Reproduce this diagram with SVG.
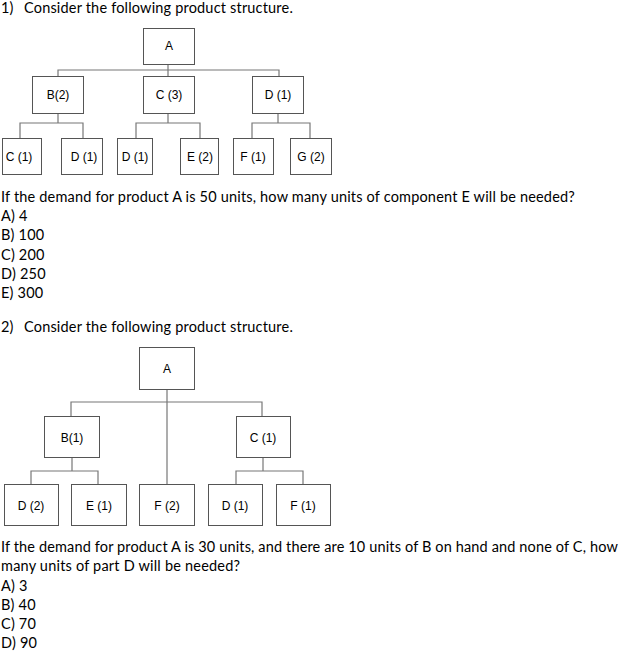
<svg xmlns="http://www.w3.org/2000/svg" width="624" height="654" viewBox="0 0 624 654">
<style>
.t{font-family:Lato,"Open Sans",sans-serif;font-size:14.5px;fill:#000;letter-spacing:0.2px}
.n rect{fill:#fff;stroke:#555;stroke-width:1}
.n text{font-family:"Liberation Sans",Arial,sans-serif;font-size:12px;fill:#000;text-anchor:middle}
.c{stroke:#777;stroke-width:1.2;fill:none}
</style>
<rect width="624" height="654" fill="#fff"/>
<text class="t" x="1" y="13">1)</text>
<text class="t" x="24" y="13" textLength="269" lengthAdjust="spacing">Consider the following product structure.</text>
<g class="c" id="connectors1">
<path d="M168 64V70M58 76V70H279V76M168 70V76"/>
<path d="M58 113V123M20 138V123H83V138"/>
<path d="M168 113V123M136 138V123H200V138"/>
<path d="M278 113V123M252 138V123H310V138"/>
</g>
<g class="n" id="n1A"><rect x="143.5" y="28.5" width="51" height="36"/><text x="169" y="50">A</text></g>
<g class="n" id="n1B"><rect x="32.5" y="76.5" width="51" height="37"/><text x="58" y="99">B(2)</text></g>
<g class="n" id="n1C"><rect x="143.5" y="76.5" width="51" height="37"/><text x="169" y="99">C (3)</text></g>
<g class="n" id="n1D"><rect x="252.5" y="76.5" width="51" height="37"/><text x="278" y="99">D (1)</text></g>
<g class="n" id="n1C1"><rect x="2.5" y="138.5" width="39" height="36"/><text x="19" y="161">C (1)</text></g>
<g class="n" id="n1D1"><rect x="61.5" y="138.5" width="41" height="36"/><text x="84" y="161">D (1)</text></g>
<g class="n" id="n1D2"><rect x="117.5" y="138.5" width="35" height="36"/><text x="135" y="161">D (1)</text></g>
<g class="n" id="n1E"><rect x="180.5" y="138.5" width="38" height="36"/><text x="200" y="161">E (2)</text></g>
<g class="n" id="n1F"><rect x="233.5" y="138.5" width="40" height="36"/><text x="253" y="161">F (1)</text></g>
<g class="n" id="n1G"><rect x="290.5" y="138.5" width="41" height="36"/><text x="311" y="161">G (2)</text></g>
<text class="t" x="1" y="202" textLength="574" lengthAdjust="spacing">If the demand for product A is 50 units, how many units of component E will be needed?</text>
<text class="t" x="1" y="221">A) 4</text>
<text class="t" x="1" y="240">B) 100</text>
<text class="t" x="1" y="260">C) 200</text>
<text class="t" x="1" y="279">D) 250</text>
<text class="t" x="1" y="298">E) 300</text>
<text class="t" x="1" y="332">2)</text>
<text class="t" x="24" y="332" textLength="269" lengthAdjust="spacing">Consider the following product structure.</text>
<g class="c" id="connectors2">
<path d="M167 389V484M71 416V402H262V416"/>
<path d="M72 457V471M31 484V471H98V484"/>
<path d="M263 457V471M236 484V471H303V484"/>
</g>
<g class="n" id="n2A"><rect x="139.5" y="347.5" width="55" height="42"/><text x="167" y="373">A</text></g>
<g class="n" id="n2B"><rect x="44.5" y="416.5" width="55" height="41"/><text x="72" y="442">B(1)</text></g>
<g class="n" id="n2C"><rect x="236.5" y="416.5" width="54" height="41"/><text x="263" y="442">C (1)</text></g>
<g class="n" id="n2D"><rect x="4.5" y="484.5" width="54" height="41"/><text x="31" y="510">D (2)</text></g>
<g class="n" id="n2E"><rect x="71.5" y="484.5" width="55" height="41"/><text x="99" y="510">E (1)</text></g>
<g class="n" id="n2F"><rect x="139.5" y="484.5" width="55" height="41"/><text x="167" y="510">F (2)</text></g>
<g class="n" id="n2D1"><rect x="208.5" y="484.5" width="54" height="41"/><text x="235" y="510">D (1)</text></g>
<g class="n" id="n2F1"><rect x="276.5" y="484.5" width="54" height="41"/><text x="303" y="510">F (1)</text></g>
<text class="t" x="1" y="552" textLength="617" lengthAdjust="spacing">If the demand for product A is 30 units, and there are 10 units of B on hand and none of C, how</text>
<text class="t" x="1" y="571">many units of part D will be needed?</text>
<text class="t" x="1" y="591">A) 3</text>
<text class="t" x="1" y="610">B) 40</text>
<text class="t" x="1" y="629">C) 70</text>
<text class="t" x="1" y="648">D) 90</text>
</svg>
